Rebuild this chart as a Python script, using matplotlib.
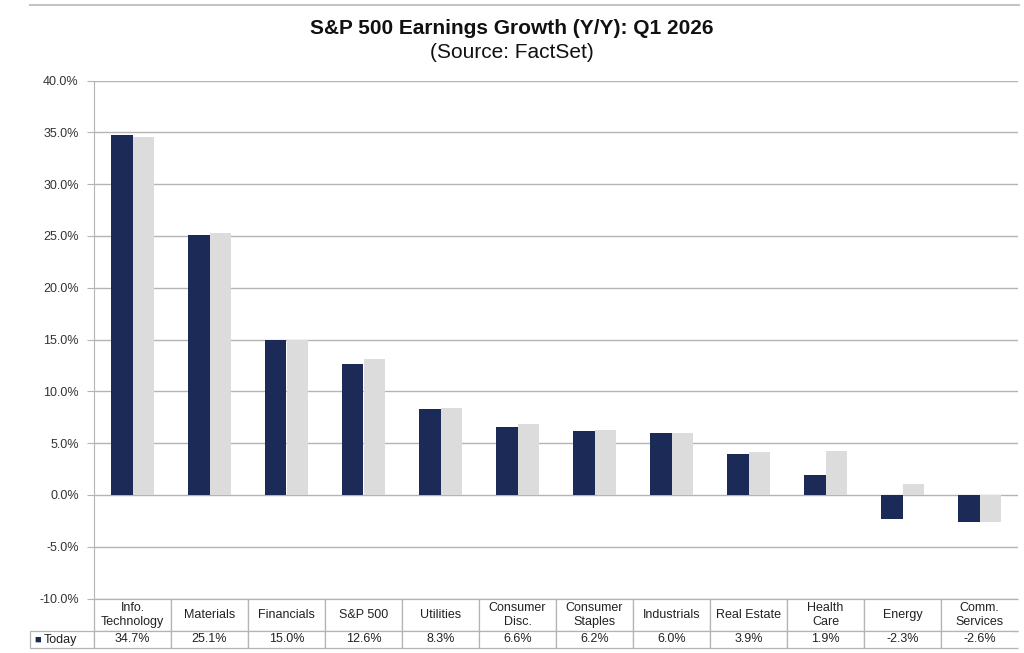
import numpy as np
import matplotlib
matplotlib.use('Agg')
import matplotlib.pyplot as plt
from matplotlib.table import Table
from matplotlib.lines import Line2D
from matplotlib.ticker import FuncFormatter

plt.rcParams['font.family'] = ['Liberation Sans', 'DejaVu Sans']

# ---- data
sectors = ['Info.\nTechnology', 'Materials', 'Financials', 'S&P 500', 'Utilities',
           'Consumer\nDisc.', 'Consumer\nStaples', 'Industrials', 'Real Estate',
           'Health\nCare', 'Energy', 'Comm.\nServices']
today = [34.7, 25.1, 15.0, 12.6, 8.3, 6.6, 6.2, 6.0, 3.9, 1.9, -2.3, -2.6]
earlier = [34.5, 25.3, 15.0, 13.1, 8.4, 6.8, 6.3, 6.0, 4.1, 4.2, 1.1, -2.6]
row_label = 'Today'

navy = '#1b2a56'
light = '#dcdcdc'
grid_col = '#b4b4b4'
txt_col = '#333333'

fig = plt.figure(figsize=(10.24, 6.53), dpi=100, facecolor='w')
ax = fig.add_axes([94/1024, 1-598.5/653, 924/1024, 518/653])

x = np.arange(len(sectors))
w = 0.285
ax.bar(x - w/2, today, w, color=navy, zorder=3)
ax.bar(x + w/2, earlier, w, color=light, zorder=3)

ax.set_xlim(-0.5, len(sectors) - 0.5)
ax.set_ylim(-10, 40)
ax.set_yticks(np.arange(-10, 41, 5))
ax.yaxis.set_major_formatter(FuncFormatter(lambda v, p: '{:.1f}%'.format(v)))
ax.set_xticks([])
ax.grid(axis='y', color=grid_col, lw=1.0, zorder=0)
ax.set_axisbelow(True)
for s in ['top', 'right', 'bottom']:
    ax.spines[s].set_visible(False)
ax.spines['left'].set_color(grid_col)
ax.tick_params(axis='y', direction='out', length=5, color=grid_col,
               labelsize=9, labelcolor=txt_col, pad=6)

# ---- data table under the plot
hh = 32.5/518   # header row height (axes fraction)
dh = 17/518     # data row height
rlw = 64/924    # row label width
cw = 1.0/len(sectors)

# bbox covers the sector columns only, the row label sits to the left of it
tbl = Table(ax, bbox=[0, -(hh + dh), 1, hh + dh])
for j, name in enumerate(sectors):
    tbl.add_cell(0, j, cw, hh, text=name, loc='center')
    tbl.add_cell(1, j, cw, dh, text='{:.1f}%'.format(today[j]), loc='center')
tbl.add_cell(1, -1, rlw, dh, text='', loc='left')
tbl.auto_set_font_size(False)
tbl.set_fontsize(9)
for (r, c), cell in tbl.get_celld().items():
    cell.set_edgecolor(grid_col)
    cell.set_linewidth(0.9)
    cell.get_text().set_color('#222222')
    cell.get_text().set_linespacing(1.2)
    if c == len(sectors) - 1:
        cell.visible_edges = 'BLT'
ax.add_table(tbl)

ax.text(-rlw + 0.0045, -(hh + dh/2), '\u25a0', color=navy, fontsize=8,
        ha='left', va='center', transform=ax.transAxes)
ax.text(-rlw + 0.0145, -(hh + dh/2), row_label, color='#222222', fontsize=9,
        ha='left', va='center', transform=ax.transAxes)

# ---- titles and frame line
fig.text(0.5, 1 - 28/653, 'S&P 500 Earnings Growth (Y/Y): Q1 2026',
         ha='center', va='center', fontsize=15, fontweight='bold', color='#111111')
fig.text(0.5, 1 - 52.5/653, '(Source: FactSet)', ha='center', va='center',
         fontsize=15, color='#111111')
fig.add_artist(Line2D([30/1024, 1019/1024], [1 - 4.5/653, 1 - 4.5/653],
                      color='#c4c4c4', lw=1.5))

fig.savefig('out.png', dpi=100, facecolor='w')
